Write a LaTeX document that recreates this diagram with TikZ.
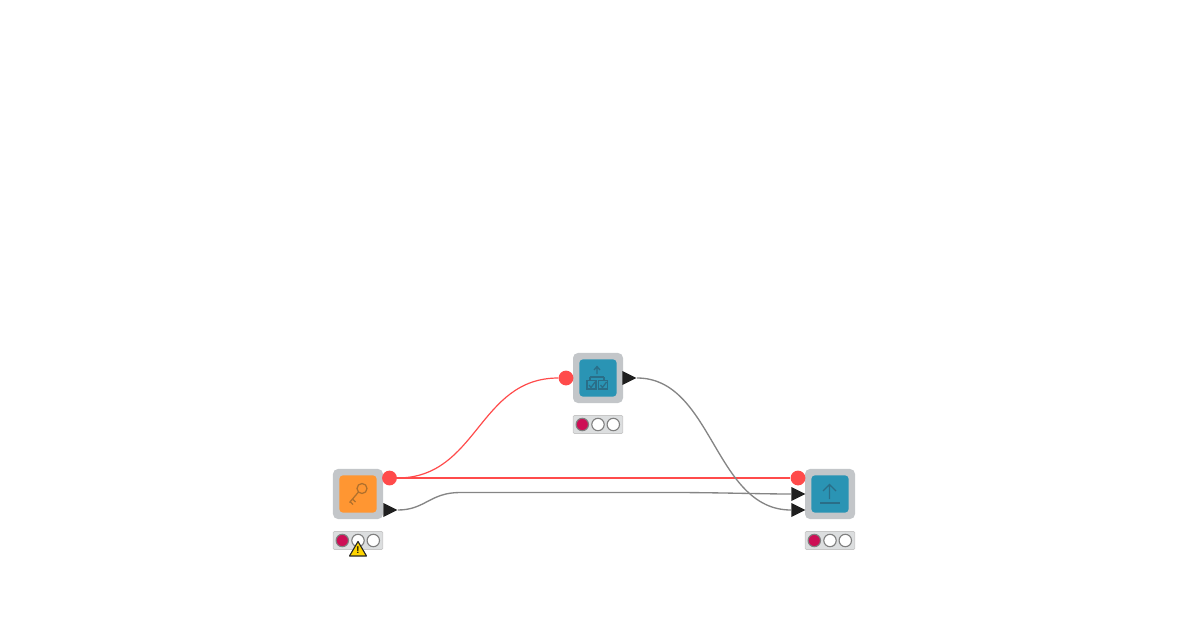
\documentclass[tikz,border=0pt]{standalone}
\usetikzlibrary{shapes.geometric}
\definecolor{nodegray}{HTML}{C3C6C9}
\definecolor{keyorange}{HTML}{FF9632}
\definecolor{sinkblue}{HTML}{2A94B4}
\definecolor{flowred}{HTML}{FF4B4B}
\definecolor{lightred}{HTML}{CD0F55}
\definecolor{panelgray}{HTML}{DCDEDF}
\definecolor{linkgray}{HTML}{858585}
\definecolor{warnyellow}{HTML}{FFD500}
\definecolor{keyline}{HTML}{B0702C}
\definecolor{sinkline}{HTML}{2A6E88}
\tikzset{
    frame/.style={draw=none, fill=nodegray, rounded corners=3.5pt, minimum size=1.25cm, inner sep=0pt},
    body/.style={fill=#1, rounded corners=2.5pt, minimum size=0.93cm, inner sep=0pt},
    panel/.style={draw=black!22, fill=panelgray, line width=0.5pt, rounded corners=0.8pt, minimum width=1.235cm, minimum height=0.45cm, inner sep=0pt},
    lamp/.style={circle, draw=black!50, fill=#1, line width=0.8pt, minimum size=0.31cm, inner sep=0pt},
    flowport/.style={circle, fill=flowred, minimum size=0.37cm, inner sep=0pt},
    dataport/.style={isosceles triangle, isosceles triangle apex angle=53, fill=black!88, minimum height=0.35cm, minimum width=0.35cm, inner sep=0pt, anchor=lower side},
    flowlink/.style={draw=flowred, line width=0.85pt},
    datalink/.style={draw=linkgray, line width=0.95pt},
    glyph/.style={line width=0.9pt}
}
\begin{document}
\begin{tikzpicture}[x=0.025cm, y=-0.025cm]
    \useasboundingbox (0,0) rectangle (1200,630);

    \node[frame] (key) at (358,494) {};
    \node[body=keyorange] (keybody) at (358,494) {};
    \node[frame] (upload) at (598,378) {};
    \node[body=sinkblue] (uploadbody) at (598,378) {};
    \node[frame] (sink) at (830,494) {};
    \node[body=sinkblue] (sinkbody) at (830,494) {};

    % traffic lights
    \foreach \name/\x/\y in {key/358/540.5, upload/598/424.5, sink/830/540.5} {
        \node[panel] (\name panel) at (\x,\y) {};
        \node[lamp=lightred] (\name lampa) at (\x-15.7,\y) {};
        \node[lamp=white] (\name lampb) at (\x,\y) {};
        \node[lamp=white] (\name lampc) at (\x+15.3,\y) {};
    }

    % ports
    \node[flowport] (keyflow) at (389.5,478) {};
    \node[dataport] (keydata) at (383,510) {};
    \node[flowport] (uploadflow) at (566,378) {};
    \node[dataport] (uploaddata) at (622,378) {};
    \node[flowport] (sinkflow) at (798,478) {};
    \node[dataport] (sinkdataa) at (791,494) {};
    \node[dataport] (sinkdatab) at (791,510) {};

    % links
    \draw[flowlink] (keyflow.east) .. controls (478,478) and (478,378) .. (uploadflow.west);
    \draw[flowlink] (keyflow.east) -- (sinkflow.west);
    \draw[datalink] (keydata.apex) .. controls (425,510) and (430,492.5) .. (460,492.5)
        -- (670,492.5) .. controls (720,492.5) and (760,494) .. (sinkdataa.lower side);
    \draw[datalink] (uploaddata.apex) .. controls (713,378) and (714,510) .. (sinkdatab.lower side);

    % key icon
    \draw[glyph, draw=keyline] (362,488.5) circle (5);
    \draw[glyph, draw=keyline] (358.5,492) -- (349.5,502.5) (352.5,499) -- (355.5,502) (350,501.5) -- (353,504.5);

    % upload icon with boxes
    \draw[glyph, draw=sinkline] (597,374) -- (597,367) (594,370) -- (597,366.5) -- (600,370);
    \draw[glyph, draw=sinkline] (590,377) -- (604,377) (590,377) -- (590,380) (604,377) -- (604,380);
    \draw[glyph, draw=sinkline] (587,380.5) rectangle (596,389) (598.5,380.5) rectangle (607.5,389);
    \draw[glyph, draw=sinkline] (589,385) -- (591,387.5) -- (595,382) (600.5,385) -- (602.5,387.5) -- (606.5,382);

    % upload icon
    \draw[glyph, draw=sinkline] (829.5,499) -- (829.5,485) (823,491) -- (829.5,484.5) -- (836,491);
    \draw[line width=1pt, draw=sinkline] (820,503) -- (840,503);

    % warning
    \coordinate (warna) at (358,541.5);
    \coordinate (warnb) at (366.5,556);
    \coordinate (warnc) at (349.5,556);
    \draw[fill=warnyellow, draw=black!85, line width=0.8pt, line join=round] (warna) -- (warnb) -- (warnc) -- cycle;
    \node[font=\sffamily\bfseries\fontsize{7}{7}\selectfont, inner sep=0pt] (warnmark) at (358,550.5) {!};
\end{tikzpicture}
\end{document}
